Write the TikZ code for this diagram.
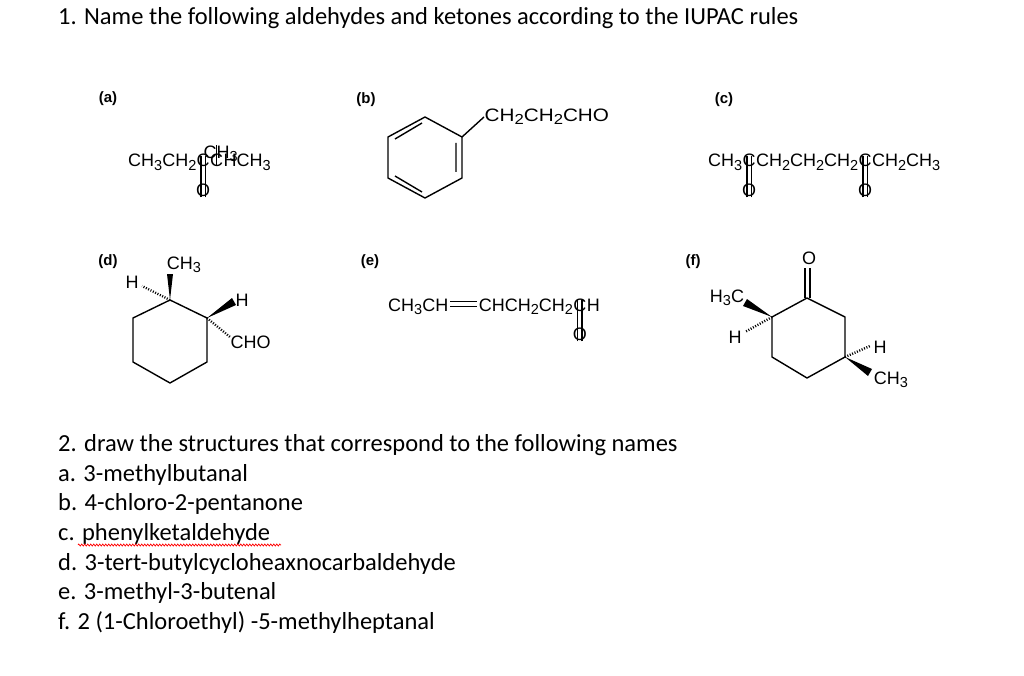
\documentclass[tikz,border=0pt]{standalone}
\usepackage{fontspec}
\setmainfont{Carlito}
\newfontfamily\chemf{Liberation Sans}
\usetikzlibrary{decorations.pathmorphing}
\newcommand\chsub[1]{\raisebox{-0.35ex}{\fontsize{14.5}{14}\selectfont #1}}
\newcommand\dbond{\kern0.1em\rlap{\raisebox{0.22em}{\rule{1.5em}{1.3pt}}}\raisebox{0.48em}{\rule{1.5em}{1.3pt}}\kern0.1em}
\begin{document}
\begin{tikzpicture}[x=1pt,y=-1pt,
  txt/.style={anchor=base west,inner sep=0pt,font=\fontsize{24.5}{28}\selectfont},
  chem/.style={inner sep=0.5pt,font=\chemf\fontsize{18}{20}\selectfont},
  ch/.style={chem,inner sep=0pt,anchor=base west},
  lab/.style={inner sep=0pt,font=\chemf\bfseries\fontsize{15}{17}\selectfont},
  bond/.style={line width=1.4pt},
  hash/.style={line width=2.4pt,dash pattern=on 1pt off 1.6pt}]
\useasboundingbox (0,0) rectangle (1024,676);
\fill[white] (0,0) rectangle (1024,676);
\node[txt] (t1) at (58,25) {1. Name the following aldehydes and ketones according to the IUPAC rules};
% (a)
\node[lab] (la) at (108,99) {(a)};
\node[ch] (a1) at (128,167) {CH\chsub{3}CH\chsub{2}};
\node[ch] (a2) at (a1.base east) {C};
\node[ch] (a3) at (a2.base east) {C};
\node[ch] (a4) at (a3.base east) {HCH\chsub{3}};
\node[chem] (oa) at ([yshift=-36pt]a2.north) {O};
\node[chem,anchor=north] (ma) at ([xshift=4pt,yshift=22pt]a3.south) {CH\chsub{3}};
\draw[bond] ([xshift=-2.2pt]oa.south)--([xshift=-2.2pt,yshift=-2pt]a2.north) ([xshift=2.2pt]oa.south)--([xshift=2.2pt,yshift=-2pt]a2.north);
\draw[bond] ([yshift=2pt]a3.south)--([xshift=-4pt]ma.north);
% (b)
\node[lab] (lb) at (366,100) {(b)};
\coordinate (b1) at (425,117); \coordinate (b2) at (462,137); \coordinate (b3) at (462,178);
\coordinate (b4) at (425,198); \coordinate (b5) at (388,178); \coordinate (b6) at (388,137);
\draw[bond,line join=round] (b1)--(b2)--(b3)--(b4)--(b5)--(b6)--cycle;
\draw[bond] (456,143)--(456,172) (422,192)--(395,176) (395,139)--(422,123);
\node[chem,anchor=west] (fb) at (484,117) {\scalebox{1.15}[1]{CH\chsub{2}CH\chsub{2}CHO}};
\draw[bond] (b2)--(fb.west);
% (c)
\node[lab] (lc) at (724,100) {(c)};
\node[ch] (c1) at (708,167) {CH\chsub{3}};
\node[ch] (c2) at (c1.base east) {C};
\node[ch] (c3) at (c2.base east) {CH\chsub{2}CH\chsub{2}CH\chsub{2}};
\node[ch] (c4) at (c3.base east) {C};
\node[ch] (c5) at (c4.base east) {CH\chsub{2}CH\chsub{3}};
\node[chem] (oc1) at ([yshift=-36pt]c2.north) {O};
\node[chem] (oc2) at ([yshift=-36pt]c4.north) {O};
\draw[bond] ([xshift=-2.2pt]oc1.south)--([xshift=-2.2pt,yshift=-2pt]c2.north) ([xshift=2.2pt]oc1.south)--([xshift=2.2pt,yshift=-2pt]c2.north);
\draw[bond] ([xshift=-2.2pt]oc2.south)--([xshift=-2.2pt,yshift=-2pt]c4.north) ([xshift=2.2pt]oc2.south)--([xshift=2.2pt,yshift=-2pt]c4.north);
% (d)
\node[lab] (ld) at (108,262) {(d)};
\coordinate (d1) at (170,300); \coordinate (d2) at (207,318); \coordinate (d3) at (207,362);
\coordinate (d4) at (170,383); \coordinate (d5) at (133,362); \coordinate (d6) at (133,318);
\draw[bond,line join=round] (d1)--(d2)--(d3)--(d4)--(d5)--(d6)--cycle;
\node[chem] (dm) at (184,265) {CH\chsub{3}};
\node[chem] (dh1) at (132,282) {H};
\node[chem] (dh2) at (242,300) {H};
\node[chem,anchor=west] (dc) at (230,342) {CHO};
\fill (d1)--(167,274)--(173,274)--cycle;
\draw[hash] (d1)--(142,286);
\fill (d2)--(232,298)--(236,305)--cycle;
\draw[hash] (d2)--(230,337);
% (e)
\node[lab] (le) at (370,262) {(e)};
\node[ch] (e1) at (388,311) {CH\chsub{3}CH\dbond CHCH\chsub{2}CH\chsub{2}};
\node[ch] (e2) at (e1.base east) {C};
\node[ch] (e3) at (e2.base east) {H};
\node[chem] (oe) at ([yshift=-36pt]e2.north) {O};
\draw[bond] ([xshift=-2.2pt]oe.south)--([xshift=-2.2pt,yshift=-2pt]e2.north) ([xshift=2.2pt]oe.south)--([xshift=2.2pt,yshift=-2pt]e2.north);
% (f)
\node[lab] (lf) at (693,262) {(f)};
\coordinate (f1) at (807,298); \coordinate (f2) at (845,317); \coordinate (f3) at (845,357);
\coordinate (f4) at (807,378); \coordinate (f5) at (772,357); \coordinate (f6) at (772,317);
\draw[bond,line join=round] (f1)--(f2)--(f3)--(f4)--(f5)--(f6)--cycle;
\node[chem] (fo) at (809,258) {O};
\draw[bond] (805,268)--(805,298) (810,268)--(810,298);
\node[chem] (fm1) at (727,298) {H\chsub{3}C};
\node[chem] (fh1) at (735,337) {H};
\node[chem] (fh2) at (880,347) {H};
\node[chem] (fm2) at (891,380) {CH\chsub{3}};
\fill (f6)--(747,299)--(743,306)--cycle;
\draw[hash] (f6)--(745,332);
\draw[hash] (f3)--(870,346);
\fill (f3)--(868,376)--(872,369)--cycle;
% section 2
\node[txt] (t2) at (58,451) {2. draw the structures that correspond to the following names};
\node[txt] (t3) at (58,481) {a. 3-methylbutanal};
\node[txt] (t4) at (58,510) {b. 4-chloro-2-pentanone};
\node[txt] (t5) at (58,540) {c. phenylketaldehyde};
\node[txt] (t6) at (58,570) {d. 3-tert-butylcycloheaxnocarbaldehyde};
\node[txt] (t7) at (58,599) {e. 3-methyl-3-butenal};
\node[txt] (t8) at (58,629) {f. 2 (1-Chloroethyl) -5-methylheptanal};
\draw[red,line width=0.7pt,decorate,decoration={zigzag,amplitude=1pt,segment length=3pt}] (t5.south)++(-0.5\wd0,0) (78,545)--(281,545);
\end{tikzpicture}
\end{document}
